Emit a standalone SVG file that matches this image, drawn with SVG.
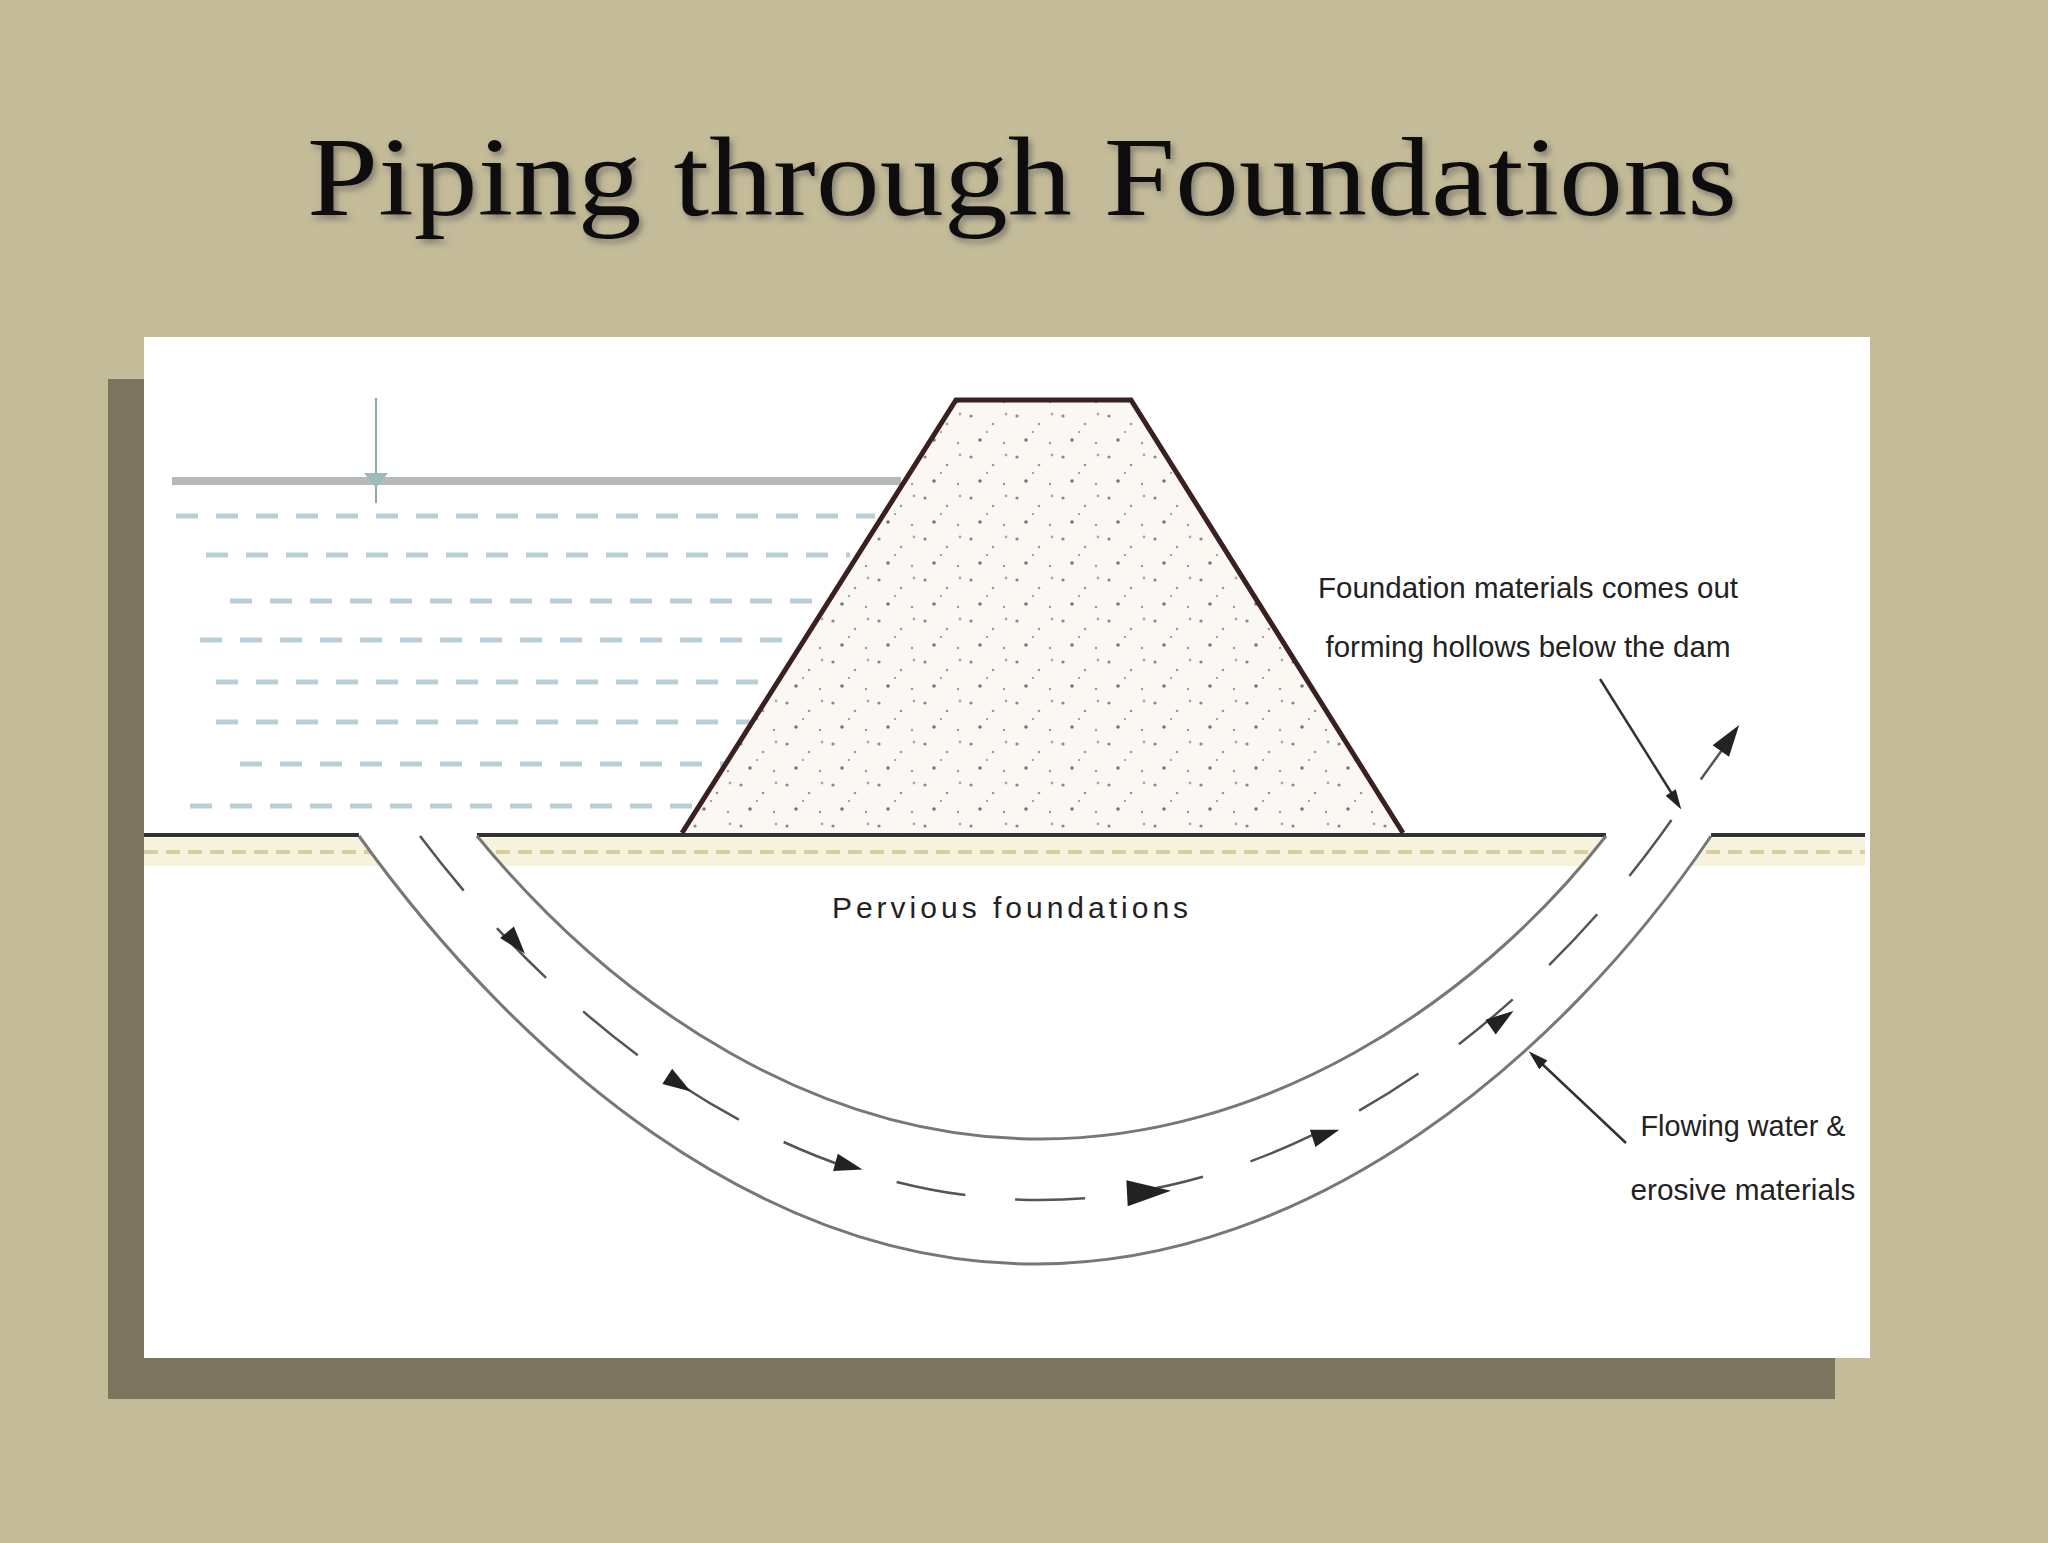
<svg xmlns="http://www.w3.org/2000/svg" width="2048" height="1543" viewBox="0 0 2048 1543">
<defs>
<style>
.lbl{font-family:"Liberation Sans",Arial,sans-serif;fill:#222;font-size:30px}
.wd{stroke:#b8cfd8;stroke-width:5;stroke-dasharray:22 18}
.arc{fill:none;stroke:#777;stroke-width:3}
.ah{fill:#222}
.gl{stroke:#333;stroke-width:4}
</style>
<pattern id="sp" width="46" height="41" patternUnits="userSpaceOnUse">
<circle cx="5" cy="6" r="1.6" fill="#888"/><circle cx="27" cy="14" r="1.3" fill="#999"/><circle cx="14" cy="30" r="1.8" fill="#777"/><circle cx="38" cy="33" r="1.2" fill="#999"/><circle cx="40" cy="4" r="1.4" fill="#aaa"/><circle cx="21" cy="22" r="1" fill="#888"/>
</pattern>
<filter id="sh"><feDropShadow dx="3" dy="4" stdDeviation="3" flood-color="#555" flood-opacity="0.6"/></filter>
</defs>
<rect width="2048" height="1543" fill="#c4bb98"/>
<g id="title"><text x="1022" y="215" text-anchor="middle" font-family="Liberation Serif,serif" font-size="112" fill="#111" filter="url(#sh)" textLength="1430" lengthAdjust="spacingAndGlyphs">Piping through Foundations</text></g>
<rect x="108" y="379" width="1727" height="1020" fill="#7b7560"/>
<rect x="144" y="337" width="1726" height="1021" fill="#fff"/>
<g id="water">
<line x1="172" y1="481" x2="901" y2="481" stroke="#b5b9bb" stroke-width="8"/>
<line x1="376" y1="398" x2="376" y2="503" stroke="#8aa" stroke-width="2"/>
<path d="M364 473 L388 473 L376 488 Z" fill="#9bb"/>
<line x1="176" y1="516" x2="875" y2="516" class="wd"/>
<line x1="206" y1="555" x2="850" y2="555" class="wd"/>
<line x1="230" y1="601" x2="820" y2="601" class="wd"/>
<line x1="200" y1="640" x2="800" y2="640" class="wd"/>
<line x1="216" y1="682" x2="775" y2="682" class="wd"/>
<line x1="216" y1="722" x2="750" y2="722" class="wd"/>
<line x1="240" y1="764" x2="725" y2="764" class="wd"/>
<line x1="190" y1="806" x2="700" y2="806" class="wd"/>
</g>
<g id="ground">
<rect x="144" y="838" width="1721" height="28" fill="#f6f2dc"/>
<line x1="144" y1="852" x2="1865" y2="852" stroke="#d8cfa0" stroke-width="4" stroke-dasharray="14 8"/>
<line x1="144" y1="835" x2="359" y2="835" class="gl"/>
<line x1="477" y1="835" x2="1606" y2="835" class="gl"/>
<line x1="1711" y1="835" x2="1865" y2="835" class="gl"/>
</g>
<g id="dam">
<path d="M682 833 L956 400 L1131 400 L1403 833 Z" fill="#fbf8f4"/>
<path d="M682 833 L956 400 L1131 400 L1403 833 Z" fill="url(#sp)"/>
<path d="M682 833 L956 400 L1131 400 L1403 833" fill="none" stroke="#3a2020" stroke-width="5"/>
</g>
<g id="connectors">
<path d="M359 836 C520 1060 760 1264 1035 1264 C1310 1264 1560 1060 1711 836 L1606 836 C1470 1010 1260 1139 1040 1139 C820 1139 620 1010 477 836 Z" fill="#fff"/>
<path class="arc" d="M359 836 C520 1060 760 1264 1035 1264 C1310 1264 1560 1060 1711 836"/>
<path class="arc" d="M477 836 C620 1010 820 1139 1040 1139 C1260 1139 1470 1010 1606 836"/>
<path d="M420 836 C570 1035 790 1200 1040 1200 C1290 1200 1515 1035 1660 836 L1722 750" fill="none" stroke="#555" stroke-width="2.5" stroke-dasharray="70 50"/>
<polygon class="ah" points="-14,-9 14,0 -14,9" transform="translate(516,943) rotate(50)"/>
<polygon class="ah" points="-14,-9 14,0 -14,9" transform="translate(679,1084) rotate(33)"/>
<polygon class="ah" points="-14,-9 14,0 -14,9" transform="translate(849,1166) rotate(15)"/>
<polygon class="ah" points="-22,-13 22,0 -22,13" transform="translate(1149,1192) rotate(-3)"/>
<polygon class="ah" points="-14,-9 14,0 -14,9" transform="translate(1326,1134) rotate(-18)"/>
<polygon class="ah" points="-14,-9 14,0 -14,9" transform="translate(1502,1019) rotate(-35)"/>
<polygon class="ah" points="-16,-10 16,0 -16,10" transform="translate(1730,738) rotate(-55)"/>
<line x1="1600" y1="679" x2="1674" y2="797" stroke="#333" stroke-width="2.5"/>
<polygon class="ah" points="-10,-6 10,0 -10,6" transform="translate(1676,801) rotate(58)"/>
<line x1="1626" y1="1143" x2="1540" y2="1062" stroke="#333" stroke-width="2.5"/>
<polygon class="ah" points="-10,-6 10,0 -10,6" transform="translate(1536,1058) rotate(-137)"/>
</g>
<g id="labels">
<text class="lbl" x="1012" y="918" text-anchor="middle" font-size="34" letter-spacing="4">Pervious foundations</text>
<text class="lbl" x="1528" y="598" text-anchor="middle" textLength="420" lengthAdjust="spacingAndGlyphs">Foundation materials comes out</text>
<text class="lbl" x="1528" y="657" text-anchor="middle" textLength="405" lengthAdjust="spacingAndGlyphs">forming hollows below the dam</text>
<text class="lbl" x="1743" y="1136" text-anchor="middle" textLength="205" lengthAdjust="spacingAndGlyphs">Flowing water &amp;</text>
<text class="lbl" x="1743" y="1200" text-anchor="middle" textLength="225" lengthAdjust="spacingAndGlyphs">erosive materials</text>
</g>
</svg>
